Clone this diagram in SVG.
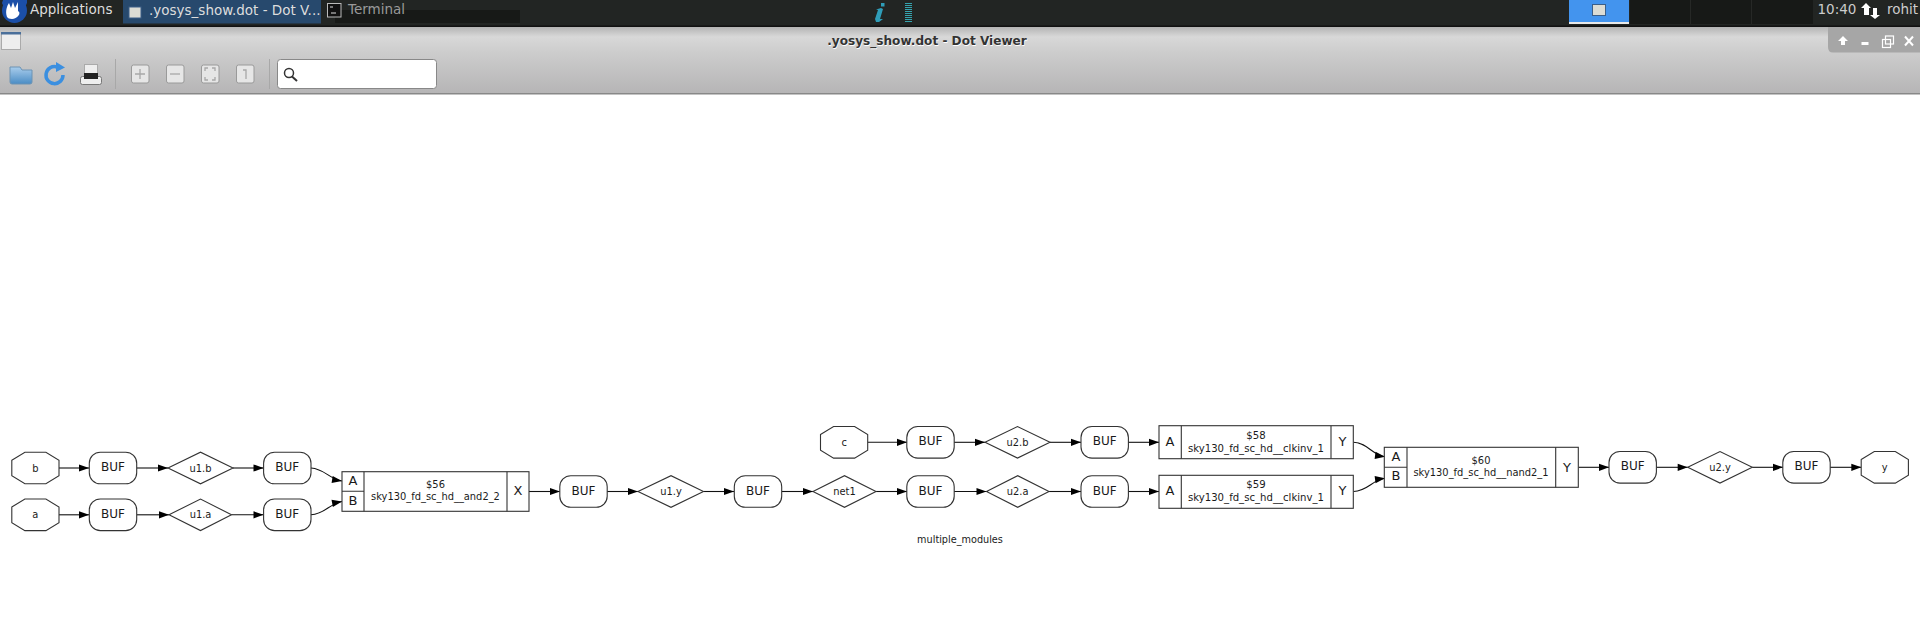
<svg xmlns="http://www.w3.org/2000/svg" width="1920" height="629" viewBox="0 0 1920 629">
<style>
text{font-family:"DejaVu Sans",sans-serif;fill:#1a1a1a;text-anchor:middle}
.s{fill:#fff;stroke:#333;stroke-width:1.1}
.e{fill:none;stroke:#111;stroke-width:1.1}
.p{font-size:12px}
.q{font-size:13px}
.l{font-size:9.9px}
.k{font-size:10.15px}
.ui{font-size:13.5px;fill:#ddd;text-anchor:start}
.ib{fill:#e6e6e6;stroke:#9a9a9a;stroke-width:1}
.ig{fill:none;stroke:#a8a8a8;stroke-width:1.3}
</style>
<defs>
<marker id="a" markerUnits="userSpaceOnUse" markerWidth="12" markerHeight="10" refX="10" refY="3.6" orient="auto" overflow="visible"><path d="M0 0L10 3.600L0 7.200Z" fill="#000"/></marker>
<linearGradient id="tb" x1="0" y1="0" x2="0" y2="1"><stop offset="0" stop-color="#b4b4b4"/><stop offset=".15" stop-color="#d8d8d8"/><stop offset=".4" stop-color="#cccccc"/><stop offset="1" stop-color="#b6b5b6"/></linearGradient>
<linearGradient id="fd" x1="0" y1="0" x2="0" y2="1"><stop offset="0" stop-color="#a9cdec"/><stop offset="1" stop-color="#4a8cc4"/></linearGradient>
<g id="buf"><rect class="s" x="-23.7" y="-15.8" width="47.4" height="31.6" rx="11"/><text class="p" y="3">BUF</text></g>
<path id="oct" class="s" d="M-23.6 -7.800L-10.5 -15.800H10.500L23.600 -7.800V7.800L10.500 15.800H-10.500L-23.600 7.800Z"/>
</defs>
<rect width="1920" height="629" fill="#fff"/>

<g id="desktop-panel">
<rect width="1920" height="26" fill="#222523"/>
<rect y="25.500" width="1920" height="1.500" fill="#111"/>
<rect x="335" y="10" width="185" height="13" fill="#171917"/>
<path d="M2 3A13 13 0 0 0 27 3V0H3Z" fill="#1b4fa8"/><circle cx="14.500" cy="10.500" r="12.500" fill="#1b4fa8"/>
<path d="M7 17C5 11 7 6 9 3L11 8L13 2L15 8L18 2L18 11C22 13 17 19 12 19C9 19 8 18 7 17Z" fill="#fff"/>
<text class="ui" x="30" y="14">Applications</text>
<rect x="123" y="0" width="198" height="23.500" fill="#27496d"/>
<rect x="129" y="7" width="12" height="11" fill="#dcdcd4" stroke="#3c5f88"/>
<text class="ui" x="149" y="15">.yosys_show.dot - Dot V...</text>
<rect x="327.500" y="3.500" width="13.500" height="13.500" fill="#111" stroke="#bbb"/>
<path d="M330 7h3M331 13h5" stroke="#ddd" fill="none"/>
<text class="ui" x="348" y="14" style="fill:#999">Terminal</text>
<path d="M876 22L875 19L878 10L876 9.500L881 8L883 9L880 19L883 19L879 22ZM881 3h3.500v3.500h-3.500z" fill="#2f9db8"/>
<path d="M905 3.500h7M905 5.500h7M905 7.500h7M905 9.500h7M905 11.500h7M905 13.500h7M905 15.500h7M905 17.500h7M905 19.500h7M905 21.500h7" stroke="#35a3ae" stroke-width="1"/>
<rect x="1569" y="0" width="60" height="24" fill="#4394ee"/>
<rect x="1569" y="22" width="60" height="2" fill="#e8e8e8"/>
<rect x="1592.500" y="4.500" width="13" height="11" fill="#dcdcd4" stroke="#3c5f88"/>
<rect x="1630" y="0" width="183" height="24" fill="#171917"/>
<path d="M1690.500 0v24M1751.500 0v24" stroke="#262826"/>
<text class="ui" x="1817.500" y="14" style="font-size:13.500px;fill:#ccc">10:40</text>
<path d="M1866 3L1871 8H1869V15H1864V8H1861ZM1873 8H1877V15H1880L1875 19L1870 15H1873Z" fill="#fff"/>
<text class="ui" x="1887" y="14" style="font-size:13.500px;fill:#ccc">rohit</text>
</g>

<g id="window-chrome">
<rect y="27" width="1920" height="66" fill="url(#tb)"/>
<rect y="93" width="1920" height="1.500" fill="#888"/>
<rect x="1.500" y="32.500" width="19" height="17" fill="#eee" stroke="#aaa"/>
<rect x="1" y="32" width="20" height="2.500" fill="#4a6f9a"/>
<text x="927" y="45" style="font-size:12.100px;font-weight:bold;fill:#fff" transform="translate(.5 .7)">.yosys_show.dot - Dot Viewer</text>
<text x="927" y="45" style="font-size:12.100px;font-weight:bold;fill:#333">.yosys_show.dot - Dot Viewer</text>
<path d="M1828 27H1920V52.500H1833Q1828 52.500 1828 47Z" fill="#a6a6a6"/>
<path d="M1843 36L1848 41H1845V45H1841V41H1838Z" fill="#fff"/>
<rect x="1861.500" y="42" width="7" height="3" fill="#fff"/>
<rect x="1882.500" y="39.500" width="8" height="8" fill="none" stroke="#fff" stroke-width="1.200"/>
<rect x="1885.500" y="36" width="8" height="8" fill="none" stroke="#fff" stroke-width="1.200"/>
<path d="M1905 36.500L1913 45.500M1913 36.500L1905 45.500" stroke="#fff" stroke-width="2"/>
<path d="M10 82V67H20L22 70H32V82Q32 84 30 84H12Q10 84 10 82Z" fill="url(#fd)" stroke="#6c93b4"/>
<path d="M63 75A8.500 8.500 0 1 1 57 67" fill="none" stroke="#3b8fe0" stroke-width="3.500"/>
<path d="M56 62L65 67.500L56 72Z" fill="#3b8fe0"/>
<rect x="84.500" y="64.500" width="13" height="12" fill="#eee" stroke="#aaa"/>
<rect x="80.500" y="76.500" width="21" height="8" rx="2" fill="#eee" stroke="#777"/>
<rect x="84" y="73" width="14" height="6" fill="#222"/>
<path d="M115.500 59V89M269.500 59V89" stroke="#a8a8a8"/>
<rect class="ib" x="131.500" y="65" width="17.500" height="18" rx="2"/><path class="ig" d="M140 69v10M135 74h10"/>
<rect class="ib" x="166.500" y="65" width="17.500" height="18" rx="2"/><path class="ig" d="M170 74h10"/>
<rect class="ib" x="201.500" y="65" width="17.500" height="18" rx="2"/><path class="ig" d="M205 71v-3h3M215 71v-3h-3M205 77v3h3M215 77v3h-3"/>
<rect class="ib" x="236.500" y="65" width="17.500" height="18" rx="2"/><path class="ig" d="M243 70h3v9"/>
<rect x="277.500" y="59.500" width="159" height="29" rx="3" fill="#fff" stroke="#888"/>
<circle cx="289" cy="73" r="4.500" fill="none" stroke="#333" stroke-width="1.500"/>
<path d="M292 76.500L297 81" stroke="#333" stroke-width="2"/>
</g>

<g id="connectors">
<path class="e" marker-end="url(#a)" d="M59 468H89"/>
<path class="e" marker-end="url(#a)" d="M59 514.800H89"/>
<path class="e" marker-end="url(#a)" d="M137 468H168"/>
<path class="e" marker-end="url(#a)" d="M137 514.800H169"/>
<path class="e" marker-end="url(#a)" d="M233 468H263.500"/>
<path class="e" marker-end="url(#a)" d="M231.500 514.800H263.500"/>
<path class="e" marker-end="url(#a)" d="M311 468C325 469 329 479 342 481"/>
<path class="e" marker-end="url(#a)" d="M311 514.800C325 514 329 504 342 501.500"/>
<path class="e" marker-end="url(#a)" d="M529 491.500H560"/>
<path class="e" marker-end="url(#a)" d="M607 491.500H638"/>
<path class="e" marker-end="url(#a)" d="M703.500 491.500H734"/>
<path class="e" marker-end="url(#a)" d="M782 491.500H813"/>
<path class="e" marker-end="url(#a)" d="M876 491.500H907"/>
<path class="e" marker-end="url(#a)" d="M954 491.500H986.500"/>
<path class="e" marker-end="url(#a)" d="M1049 491.500H1081"/>
<path class="e" marker-end="url(#a)" d="M1128 491.500H1159"/>
<path class="e" marker-end="url(#a)" d="M867.500 442.300H907"/>
<path class="e" marker-end="url(#a)" d="M954 442.300H985"/>
<path class="e" marker-end="url(#a)" d="M1050 442.300H1081"/>
<path class="e" marker-end="url(#a)" d="M1128 442.300H1159"/>
<path class="e" marker-end="url(#a)" d="M1353.500 442.300C1368 443 1372 455 1385 456.700"/>
<path class="e" marker-end="url(#a)" d="M1353.500 491.500C1368 491 1372 480 1385 478.300"/>
<path class="e" marker-end="url(#a)" d="M1578.500 467.300H1609"/>
<path class="e" marker-end="url(#a)" d="M1656.500 467.300H1687.700"/>
<path class="e" marker-end="url(#a)" d="M1752.300 467.300H1783"/>
<path class="e" marker-end="url(#a)" d="M1830 467.300H1861.300"/>
</g>

<g id="n-b"><use href="#oct" x="35.400" y="468"/><text class="l" x="35.400" y="471.500">b</text></g>
<g id="n-a"><use href="#oct" x="35.400" y="514.800"/><text class="l" x="35.400" y="518.300">a</text></g>
<g id="n-c"><use href="#oct" x="844.100" y="442.300"/><text class="l" x="844.100" y="445.800">c</text></g>
<g id="n-y"><use href="#oct" x="1884.800" y="467.300"/><text class="l" x="1884.800" y="470.800">y</text></g>

<g id="buf1"><use href="#buf" x="113" y="468"/></g>
<g id="buf2"><use href="#buf" x="113" y="514.800"/></g>
<g id="buf3"><use href="#buf" x="287.300" y="468"/></g>
<g id="buf4"><use href="#buf" x="287.300" y="514.800"/></g>
<g id="buf5"><use href="#buf" x="583.500" y="491.500"/></g>
<g id="buf6"><use href="#buf" x="758" y="491.500"/></g>
<g id="buf7"><use href="#buf" x="930.500" y="491.500"/></g>
<g id="buf8"><use href="#buf" x="930.500" y="442.300"/></g>
<g id="buf9"><use href="#buf" x="1104.700" y="491.500"/></g>
<g id="buf10"><use href="#buf" x="1104.700" y="442.300"/></g>
<g id="buf11"><use href="#buf" x="1632.700" y="467.300"/></g>
<g id="buf12"><use href="#buf" x="1806.500" y="467.300"/></g>

<g id="u1b"><path class="s" d="M168 468L200.500 452.200L233 468L200.500 483.800Z"/><text class="l" x="200.500" y="471.500">u1.b</text></g>
<g id="u1a"><path class="s" d="M169 514.800L200.500 499L231.500 514.800L200.500 530.600Z"/><text class="l" x="200.500" y="518.300">u1.a</text></g>
<g id="u1y"><path class="s" d="M638 491.500L671 475.700L703.500 491.500L671 507.300Z"/><text class="l" x="671" y="495">u1.y</text></g>
<g id="net1"><path class="s" d="M813 491.500L844.500 475.700L876 491.500L844.500 507.300Z"/><text class="l" x="844.500" y="495">net1</text></g>
<g id="u2a"><path class="s" d="M986.500 491.500L1017.700 475.700L1049 491.500L1017.700 507.300Z"/><text class="l" x="1017.700" y="495">u2.a</text></g>
<g id="u2b"><path class="s" d="M985 442.300L1017.500 426.500L1050 442.300L1017.500 458.100Z"/><text class="l" x="1017.500" y="445.800">u2.b</text></g>
<g id="u2y"><path class="s" d="M1687.700 467.300L1720 451.500L1752.300 467.300L1720 483.100Z"/><text class="l" x="1720" y="470.800">u2.y</text></g>

<g id="c56"><rect class="s" x="342" y="471.700" width="187" height="39.600"/><path class="s" d="M342 491.300H364M364 471.700V511.300M507 471.700V511.300"/><text class="q" x="353" y="485">A</text><text class="q" x="353" y="505">B</text><text class="l" x="435.500" y="488.300">$56</text><text class="l" x="435.500" y="499.800">sky130_fd_sc_hd__and2_2</text><text class="q" x="518" y="495">X</text></g>
<g id="c58"><rect class="s" x="1159" y="425.700" width="194.300" height="33"/><path class="s" d="M1181.300 425.700V458.700M1331 425.700V458.700"/><text class="q" x="1170" y="445.500">A</text><text class="k" x="1256" y="438.500">$58</text><text class="k" x="1256" y="451.500">sky130_fd_sc_hd__clkinv_1</text><text class="q" x="1342.500" y="445.500">Y</text></g>
<g id="c59"><rect class="s" x="1159" y="475.300" width="194.300" height="33"/><path class="s" d="M1181.300 475.300V508.300M1331 475.300V508.300"/><text class="q" x="1170" y="495.200">A</text><text class="k" x="1256" y="488.200">$59</text><text class="k" x="1256" y="500.700">sky130_fd_sc_hd__clkinv_1</text><text class="q" x="1342.500" y="495.200">Y</text></g>
<g id="c60"><rect class="s" x="1384.300" y="447.300" width="194" height="40"/><path class="s" d="M1384.300 467.300H1407M1407 447.300V487.300M1555.700 447.300V487.300"/><text class="q" x="1396" y="461">A</text><text class="q" x="1396" y="480">B</text><text class="l" x="1481" y="463.500">$60</text><text class="l" x="1481" y="476.200">sky130_fd_sc_hd__nand2_1</text><text class="q" x="1567" y="471.500">Y</text></g>
<text class="l" x="960" y="542.700" style="font-size:9.700px">multiple_modules</text>
</svg>
